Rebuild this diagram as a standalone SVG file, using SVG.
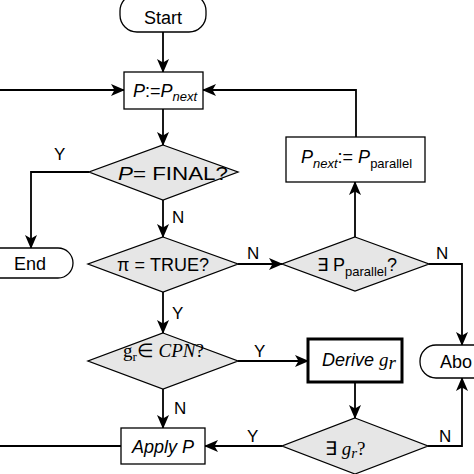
<svg xmlns="http://www.w3.org/2000/svg" width="474" height="474" viewBox="0 0 474 474">
<defs>
<marker id="ah" markerWidth="14" markerHeight="12" refX="13" refY="6" orient="auto" markerUnits="userSpaceOnUse">
<path d="M0,0 L14,6 L0,12 L3.5,6 z" fill="#000"/>
</marker>
<style>
.t{font-family:"Liberation Sans",Arial,sans-serif;font-size:18px;fill:#000}
.s{font-family:"Liberation Serif","Times New Roman",serif;font-size:19px;fill:#000}
.term{fill:#fff;stroke:#000;stroke-width:1.3}
.box{fill:#fff;stroke:#000;stroke-width:1.3}
.dia{fill:#e6e6e6;stroke:#000;stroke-width:1.3}
.c{fill:none;stroke:#000;stroke-width:1.8}
.lbl{font-family:"Liberation Sans",Arial,sans-serif;font-size:17px;fill:#000}
</style>
</defs>
<rect width="474" height="474" fill="#fff"/>
<g id="connectors">
<path class="c" d="M163,32 V72" marker-end="url(#ah)"/>
<path class="c" d="M0,90 H124" marker-end="url(#ah)"/>
<path class="c" d="M356,137 V90 H203" marker-end="url(#ah)"/>
<path class="c" d="M163,109 V145" marker-end="url(#ah)"/>
<path class="c" d="M89,172 H31 V248" marker-end="url(#ah)"/>
<path class="c" d="M163,200 V237" marker-end="url(#ah)"/>
<path class="c" d="M238,264 H282" marker-end="url(#ah)"/>
<path class="c" d="M355,237 V182" marker-end="url(#ah)"/>
<path class="c" d="M429,264 H462 V345" marker-end="url(#ah)"/>
<path class="c" d="M163,292 V333" marker-end="url(#ah)"/>
<path class="c" d="M238,361 H308" marker-end="url(#ah)"/>
<path class="c" d="M355,382 V418" marker-end="url(#ah)"/>
<path class="c" d="M428,446 H462 V378" marker-end="url(#ah)"/>
<path class="c" d="M282,446 H205" marker-end="url(#ah)"/>
<path class="c" d="M163,389 V428" marker-end="url(#ah)"/>
<path class="c" d="M121,446 H0"/>
<text class="lbl" x="54" y="160">Y</text>
<text class="lbl" x="172" y="223">N</text>
<text class="lbl" x="247" y="259">N</text>
<text class="lbl" x="436" y="259">N</text>
<text class="lbl" x="172" y="319">Y</text>
<text class="lbl" x="254" y="357">Y</text>
<text class="lbl" x="174" y="414">N</text>
<text class="lbl" x="247" y="442">Y</text>
<text class="lbl" x="439" y="442">N</text>
</g>
<g id="start">
<rect class="term" x="120" y="-6" width="86" height="38" rx="17"/>
<text class="t" x="163" y="24" text-anchor="middle">Start</text>
</g>
<g id="assign">
<rect class="box" x="124" y="72" width="79" height="37"/>
<text class="t" x="133" y="97"><tspan font-style="italic">P</tspan>:=<tspan font-style="italic">P</tspan><tspan font-style="italic" font-size="13" dy="4">next</tspan></text>
</g>
<g id="pnext">
<rect class="box" x="286" y="137" width="139" height="45"/>
<text class="t" x="301" y="163"><tspan font-style="italic">P</tspan><tspan font-style="italic" font-size="13" dy="5">next</tspan><tspan dy="-5">:= </tspan><tspan font-style="italic">P</tspan><tspan font-size="13" dy="5">parallel</tspan></text>
</g>
<g id="final">
<polygon class="dia" points="163,145 238,172 163,200 89,172"/>
<text class="t" x="118" y="180" font-size="20" textLength="110" lengthAdjust="spacingAndGlyphs"><tspan font-style="italic">P</tspan>= FINAL?</text>
</g>
<g id="end">
<rect class="term" x="-30" y="248" width="103" height="30" rx="15"/>
<text class="t" x="30" y="270" text-anchor="middle">End</text>
</g>
<g id="true">
<polygon class="dia" points="163,237 238,264 163,292 88,264"/>
<text class="t" x="163" y="271" text-anchor="middle">π = TRUE?</text>
</g>
<g id="parallel">
<polygon class="dia" points="355,237 429,264 355,291 282,264"/>
<text class="t" x="317" y="271">∃ P<tspan font-size="13" dy="5">parallel</tspan><tspan dy="-5">?</tspan></text>
</g>
<g id="abort">
<rect class="term" x="420" y="345" width="90" height="33" rx="16"/>
<text class="t" x="440" y="368">Abo</text>
</g>
<g id="cpn">
<polygon class="dia" points="163,333 238,361 163,389 88,361"/>
<text class="s" x="123" y="357">g<tspan font-size="13" dy="4">r</tspan><tspan dy="-4">∈ </tspan><tspan font-style="italic">CPN</tspan>?</text>
</g>
<g id="derive">
<rect x="308" y="339" width="94" height="43" fill="#fff" stroke="#000" stroke-width="3"/>
<text class="t" x="322" y="366" font-size="17"><tspan font-style="italic">Derive</tspan> <tspan class="s" font-style="italic" font-size="17">g</tspan><tspan class="s" font-style="italic" font-size="11" dy="3">r</tspan></text>
</g>
<g id="exists">
<polygon class="dia" points="355,418 428,446 355,474 282,446"/>
<text class="s" x="325" y="455" font-size="24">∃ <tspan font-style="italic">g</tspan><tspan font-style="italic" font-size="15" dy="3">r</tspan><tspan dy="-3">?</tspan></text>
</g>
<g id="apply">
<rect class="box" x="121" y="428" width="84" height="36"/>
<text class="t" x="163" y="453" text-anchor="middle" font-style="italic">Apply P</text>
</g>
</svg>
